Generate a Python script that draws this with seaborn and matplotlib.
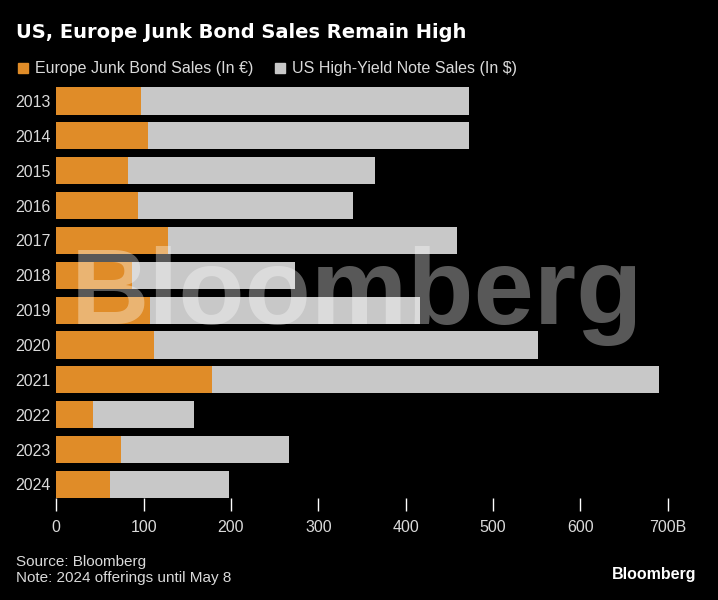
import pandas as pd
import matplotlib.pyplot as plt
import seaborn as sb

years = ["2013", "2014", "2015", "2016", "2017", "2018",
         "2019", "2020", "2021", "2022", "2023", "2024"]
# Europe junk bond sales (EUR bn) and US high-yield note sales (USD bn), stacked
europeSales = [97, 105, 82, 93, 128, 87, 107, 112, 178, 42, 74, 61]
usSales = [376, 368, 283, 247, 331, 186, 309, 440, 512, 116, 193, 137]
xTicks = [0, 100, 200, 300, 400, 500, 600, 700]
xTickLabels = ["0", "100", "200", "300", "400", "500", "600", "700B"]

dataSet = pd.DataFrame({"year": years, "europe": europeSales, "us": usSales})
dataSet["total"] = dataSet["europe"] + dataSet["us"]

orange = "#e08c28"
grey = "#c8c8c8"
textCol = "#dadada"

sb.set_style("dark")
plt.rcParams["font.family"] = ["Liberation Sans", "DejaVu Sans"]

fig = plt.figure(figsize=(7.18, 6), dpi=100, facecolor="black")
ax = fig.add_axes([0.0784, 0.17, 0.8514, 0.6907])
ax.set_facecolor("black")

sb.barplot(data=dataSet, y="year", x="total", color=grey, width=0.78,
           saturation=1, orient="h", linewidth=0, ax=ax)
sb.barplot(data=dataSet, y="year", x="europe", color=orange, width=0.78,
           saturation=1, orient="h", linewidth=0, ax=ax)

ax.set_xlim(0, 700)
ax.set_ylim(11.39, -0.5)
ax.set_xticks(xTicks)
ax.set_xticklabels(xTickLabels)
ax.set_xlabel("")
ax.set_ylabel("")
ax.grid(False)
for s in ax.spines.values():
    s.set_visible(False)
ax.tick_params(axis="x", bottom=True, colors="white", length=9, width=1,
               direction="out", labelcolor=textCol, labelsize=11.5, pad=7)
ax.tick_params(axis="y", left=False, length=0, labelcolor=textCol,
               labelsize=11.5, pad=4)

# watermark
fig.text(0.497, 0.507, "Bloomberg", color="white", alpha=0.35, fontsize=78,
         fontweight="bold", ha="center", va="center")

fig.text(0.022, 0.945, "US, Europe Junk Bond Sales Remain High", color="white",
         fontsize=14, fontweight="bold", family="DejaVu Sans", va="center")

# legend
fig.patches.append(plt.Rectangle((18 / 718, 1 - 73 / 600), 10 / 718, 10 / 600,
                                 color=orange, transform=fig.transFigure))
fig.text(35 / 718, 1 - 68 / 600, "Europe Junk Bond Sales (In €)", color=textCol,
         fontsize=11.5, va="center")
fig.patches.append(plt.Rectangle((275 / 718, 1 - 73 / 600), 10 / 718, 10 / 600,
                                 color=grey, transform=fig.transFigure))
fig.text(292 / 718, 1 - 68 / 600, "US High-Yield Note Sales (In $)", color=textCol,
         fontsize=11.5, va="center")

fig.text(0.022, 1 - 562 / 600, "Source: Bloomberg", color=textCol, fontsize=11,
         va="center")
fig.text(0.022, 1 - 578 / 600, "Note: 2024 offerings until May 8", color=textCol,
         fontsize=11, va="center")
fig.text(696 / 718, 1 - 575 / 600, "Bloomberg", color="white", fontsize=11.5,
         fontweight="bold", ha="right", va="center")

fig.savefig("out.png", dpi=100, facecolor="black")
